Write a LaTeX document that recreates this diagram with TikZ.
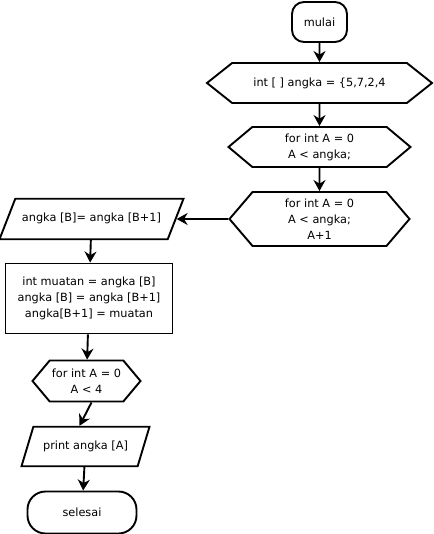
\documentclass[tikz,border=0pt]{standalone}
\usepackage{fontspec}
\setmainfont{DejaVu Sans}
\usetikzlibrary{shapes.geometric,shapes.symbols,arrows.meta}

\begin{document}
\begin{tikzpicture}[x=1pt, y=1pt, node distance=64pt, line width=1.9pt, >={Stealth[length=11pt,width=12pt]}]

% Styles
\tikzstyle{terminal} = [draw, rectangle, rounded corners=12pt, minimum height=40pt, align=center]
\tikzstyle{loopbox}  = [draw, signal, signal to=west and east, align=center]
\tikzstyle{io}       = [draw, trapezium, trapezium stretches body=true, align=center, text height=8.6pt, text depth=2.7pt]
\tikzstyle{process}  = [draw, rectangle, align=center]
\tikzset{every node/.append style={font=\fontsize{11.3pt}{16pt}\selectfont, inner sep=0pt}}

\useasboundingbox (0,0) rectangle (433,-534);

% Nodes
\node [terminal, minimum width=55pt] (mulai) at (319.5,-22) {mulai};
\node [loopbox, below of=mulai, node distance=61pt, minimum width=225pt, minimum height=40pt, signal pointer angle=77] (angka) {int [ ] angka = \{5,7,2,4};
\node [loopbox, below of=angka, minimum width=182pt, minimum height=40pt, signal pointer angle=80] (forA) {for int A = 0\\A < angka;};
\node [loopbox, below of=forA, node distance=72pt, minimum width=180pt, minimum height=54pt, signal pointer angle=99] (forAinc) {for int A = 0\\A < angka;\\A+1};
\node [io, left of=forAinc, node distance=228pt, minimum width=184pt, inner ysep=14.6pt, trapezium left angle=68.7, trapezium right angle=111.3] (tukar) {angka [B]= angka [B+1]};
\node [process, below of=tukar, node distance=79.5pt, xshift=-2.5pt, minimum width=167pt, minimum height=70pt] (swap) {int muatan = angka [B]\\angka [B] = angka [B+1]\\angka[B+1] = muatan};
\node [loopbox, below of=swap, node distance=82.5pt, xshift=-2.5pt, minimum width=108pt, minimum height=41pt, signal pointer angle=100] (cetakloop) {for int A = 0\\A < 4};
\node [io, below of=cetakloop, node distance=65.5pt, xshift=-1pt, minimum width=128pt, inner ysep=14.1pt, trapezium left angle=73.3, trapezium right angle=106.7] (cetak) {print angka [A]};
\node [terminal, below of=cetak, node distance=66pt, xshift=-3.5pt, minimum width=109pt, minimum height=42pt, rounded corners=18pt] (selesai) {selesai};

% Connections
\draw [->] (mulai) -- (angka);
\draw [->] (angka) -- (forA);
\draw [->] (forA) -- (forAinc);
\draw [->] (forAinc) -- (tukar);
\draw [->] (tukar) -- (swap);
\draw [->] (swap) -- (cetakloop);
\draw [->] ([xshift=5pt]cetakloop.south) -- ([xshift=-6pt]cetak.north);
\draw [->] (cetak) -- (selesai);

\end{tikzpicture}
\end{document}
